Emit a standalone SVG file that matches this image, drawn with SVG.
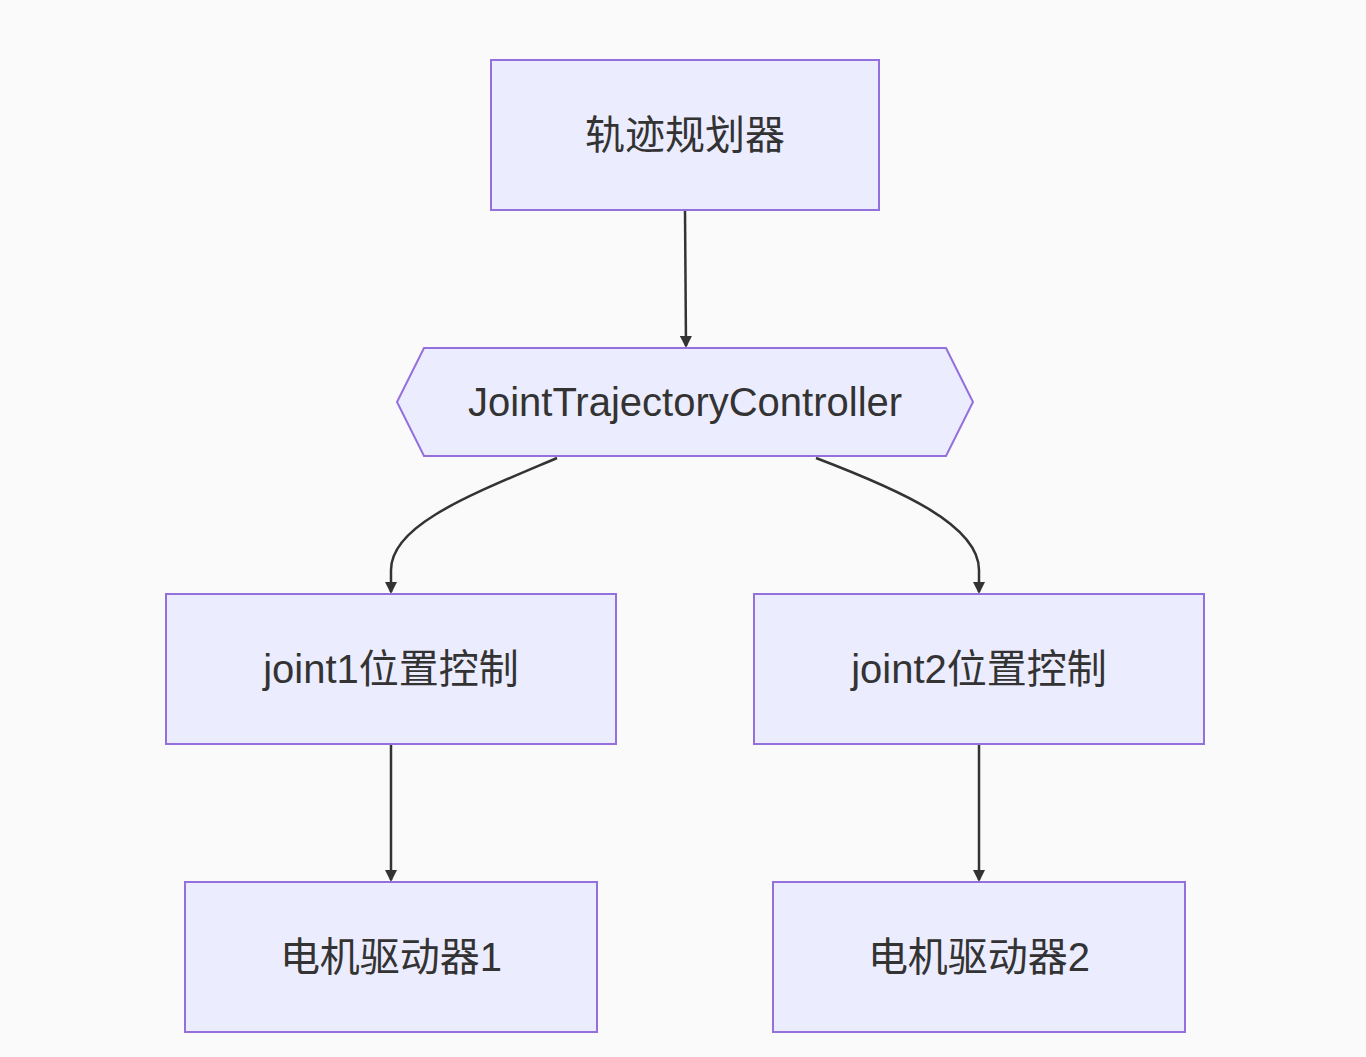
<svg xmlns="http://www.w3.org/2000/svg" width="1366" height="1057" viewBox="0 0 1366 1057">
<style>
.n{fill:#ECECFF;stroke:#9370DB;stroke-width:2}
.t{font-family:"Liberation Sans","Noto Sans CJK SC",sans-serif;font-size:40px;fill:#333;text-anchor:middle;dominant-baseline:central}
.e{fill:none;stroke:#333;stroke-width:2.5}
</style>
<defs><marker id="a" markerWidth="12" markerHeight="12" refX="10" refY="6" orient="auto" markerUnits="userSpaceOnUse" viewBox="0 0 12 12"><path d="M0,0L12,6L0,12z" fill="#333"/></marker></defs>
<rect width="1366" height="1057" fill="#FAFAFA"/>
<g id="edges">
<path class="e" d="M685,210L686,346" marker-end="url(#a)"/>
<path class="e" d="M557,458C470,495 391,525 391,570L391,592" marker-end="url(#a)"/>
<path class="e" d="M816,458C900,490 979,525 979,570L979,592" marker-end="url(#a)"/>
<path class="e" d="M391,744L391,880" marker-end="url(#a)"/>
<path class="e" d="M979,744L979,880" marker-end="url(#a)"/>
</g>
<g id="n1"><rect class="n" x="491" y="60" width="388" height="150"/><text class="t" x="685" y="135">轨迹规划器</text></g>
<g id="n2"><polygon class="n" points="424,348 946,348 973,402 946,456 424,456 397,402"/><text class="t" x="685" y="402">JointTrajectoryController</text></g>
<g id="n3"><rect class="n" x="166" y="594" width="450" height="150"/><text class="t" x="391" y="669">joint1位置控制</text></g>
<g id="n4"><rect class="n" x="754" y="594" width="450" height="150"/><text class="t" x="979" y="669">joint2位置控制</text></g>
<g id="n5"><rect class="n" x="185" y="882" width="412" height="150"/><text class="t" x="391" y="957">电机驱动器1</text></g>
<g id="n6"><rect class="n" x="773" y="882" width="412" height="150"/><text class="t" x="979" y="957">电机驱动器2</text></g>
</svg>
